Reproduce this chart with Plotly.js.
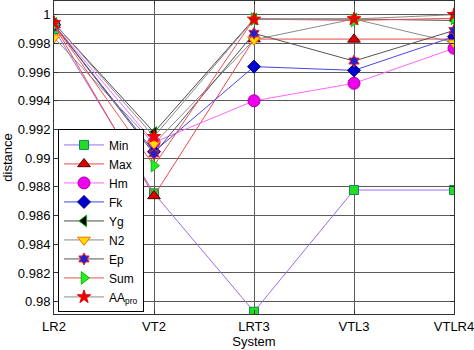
<!DOCTYPE html>
<html><head><meta charset="utf-8">
<script src="https://cdn.plot.ly/plotly-3.0.1.min.js"></script>
<style>html,body{margin:0;padding:0;background:#fff}</style>
</head><body><div id="chart" style="width:474px;height:350px"></div>
<script>
const systems = ['LR2','VT2','LRT3','VTL3','VTLR4'];
const seriesNames = ['Min','Max','Hm','Fk','Yg','N2','Ep','Sum','AA<sub>pro</sub>'];
const minVals   = [0.9990, 0.98755, 0.9793, 0.98778, 0.98778];
const maxVals   = [0.9993, 0.98737, 0.9983, 0.99828, 0.9983];
const hmVals    = [0.9993, 0.9911, 0.9940, 0.99522, 0.99766];
const fkVals    = [0.9993, 0.99045, 0.99638, 0.99612, 0.99847];
const ygVals    = [0.9994, 0.9918, 0.9997, 0.9997, 0.9996];
const n2Vals    = [0.9984, 0.9910, 0.99825, 0.9997, 0.99805];
const epVals    = [0.9993, 0.9903, 0.9987, 0.99677, 0.9989];
const sumVals   = [0.9993, 0.98948, 0.9997, 0.9996, 0.99975];
const aaproVals = [0.99944, 0.9915, 0.99968, 0.9997, 1.0000];
const yTicks = [0.98, 0.982, 0.984, 0.986, 0.988, 0.99, 0.992, 0.994, 0.996, 0.998, 1];
const yTickText = ['0.98','0.982','0.984','0.986','0.988','0.99','0.992','0.994','0.996','0.998','1'];

const allVals = [minVals,maxVals,hmVals,fkVals,ygVals,n2Vals,epVals,sumVals,aaproVals];
const styles = [
  {lc:'#9b6bf0', sym:'square', mc:'#22dd22', ml:'#118866', sz:9},
  {lc:'#f04848', sym:'triangle-up', mc:'#dd0000', ml:'#550000', sz:11},
  {lc:'#ff66ff', sym:'circle', mc:'#ee00ee', ml:'#aa00aa', sz:12},
  {lc:'#4646ee', sym:'diamond', mc:'#0000cc', ml:'#000088', sz:10},
  {lc:'#4a4a4a', sym:'triangle-left', mc:'#000000', ml:'#00aa00', sz:10},
  {lc:'#8a8a8a', sym:'triangle-down', mc:'#ffdd00', ml:'#ff6600', sz:11},
  {lc:'#555555', sym:'hexagram', mc:'#2222cc', ml:'#ee2222', sz:9},
  {lc:'#f05050', sym:'triangle-right', mc:'#22ee22', ml:'#11bb11', sz:11},
  {lc:'#8a8a8a', sym:'star', mc:'#ee0000', ml:'#ee0000', sz:10}
];
const traces = allVals.map((v,i)=>({
  x: systems, y: v, name: seriesNames[i], type:'scatter', mode:'lines+markers',
  line:{color:styles[i].lc, width:1},
  marker:{symbol:styles[i].sym, color:styles[i].mc, size:styles[i].sz, line:{color:styles[i].ml, width:1}}
}));
const layout = {
  width:474, height:350,
  margin:{l:54, r:20, t:1, b:36},
  paper_bgcolor:'#fff', plot_bgcolor:'#fff',
  font:{family:'Arial, Liberation Sans, sans-serif', size:13, color:'#000'},
  showlegend:true,
  legend:{x:0.01, y:0.005, xanchor:'left', yanchor:'bottom', bgcolor:'#fff', bordercolor:'#000', borderwidth:1,
          font:{size:12}, tracegroupgap:0, itemwidth:40},
  xaxis:{type:'category', range:[0,4], showgrid:true, gridcolor:'#5a5a5a', gridwidth:1,
         showline:true, linecolor:'#333', mirror:'ticks', ticks:'inside', ticklen:4, tickcolor:'#333',
         tickfont:{size:13}, zeroline:false, title:{text:'System', font:{size:13}, standoff:2}},
  yaxis:{range:[0.97914, 1.000955], tickvals:yTicks, ticktext:yTickText, showgrid:true, gridcolor:'#5a5a5a', gridwidth:1,
         showline:true, linecolor:'#333', mirror:'ticks', ticks:'inside', ticklen:4, tickcolor:'#333',
         tickfont:{size:13}, zeroline:false, title:{text:'distance', font:{size:13}, standoff:2}}
};
Plotly.newPlot('chart', traces, layout, {displayModeBar:false, staticPlot:true});
</script></body></html>
